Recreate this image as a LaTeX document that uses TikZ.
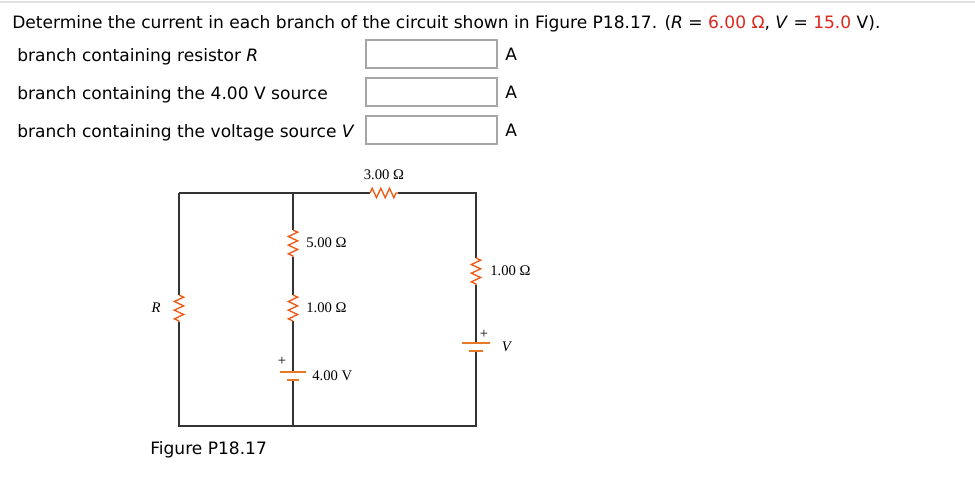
\documentclass[tikz,border=0pt]{standalone}
\usepackage{fontspec}
\setmainfont{DejaVu Sans}
\newfontfamily\serifc{Liberation Serif}
\usetikzlibrary{decorations.pathmorphing,calc}
\definecolor{val}{RGB}{220,40,30}
\definecolor{zz}{RGB}{240,90,20}
\definecolor{bat}{RGB}{230,120,40}
\begin{document}
\begin{tikzpicture}[x=0.75pt,y=-0.75pt,
  txt/.style={font=\fontsize{12.8}{15}\selectfont,anchor=base west,inner sep=0},
  box/.style={draw=black!35,line width=0.8pt},
  wire/.style={draw=black!80,line width=1pt},
  res/.style={draw=zz,line width=1pt,decorate,decoration={zigzag,segment length=6.5pt,amplitude=3.5pt}},
  lab/.style={font=\serifc\fontsize{11}{12}\selectfont,inner sep=0},
  plate/.style={draw=bat,line width=1.2pt}]
\useasboundingbox (0,0) rectangle (975,482);
\fill[white] (0,0) rectangle (975,482);
\draw[black!12,line width=1pt] (0,2) -- (975,2);
\node[txt] (q) at (12,28) {Determine the current in each branch of the circuit shown in Figure P18.17. (\textit{R} = \textcolor{val}{6.00 Ω}, \textit{V} = \textcolor{val}{15.0} V).};
\node[txt] (r1) at (17,61) {branch containing resistor \textit{R}};
\node[txt] (r2) at (17,99) {branch containing the 4.00 V source};
\node[txt] (r3) at (17,137) {branch containing the voltage source \textit{V}};
\foreach \y/\n in {40/b1,78/b2,116/b3}{
  \draw[box] (366,\y) rectangle (497,\y+28);
  \node[txt] (a\n) at (505,\y+20) {A};
}
% circuit nodes
\coordinate (TL) at (179,193); \coordinate (TM) at (293,193); \coordinate (TR) at (476,193);
\coordinate (BL) at (179,426); \coordinate (BM) at (293,426); \coordinate (BR) at (476,426);
\coordinate (t1) at (370,193); \coordinate (t2) at (398,193);
\coordinate (l1) at (179,295); \coordinate (l2) at (179,322);
\coordinate (m1) at (293,230); \coordinate (m2) at (293,257);
\coordinate (m3) at (293,295); \coordinate (m4) at (293,321);
\coordinate (mb1) at (293,372); \coordinate (mb2) at (293,380);
\coordinate (r1a) at (476,258); \coordinate (r1b) at (476,285);
\coordinate (rb1) at (476,343); \coordinate (rb2) at (476,351);
\draw[wire] (TL) -- (t1) (t2) -- (TR) -- (r1a) (r1b) -- (rb1) (rb2) -- (BR) -- (BL) -- (l2) (l1) -- (TL)
  (TM) -- (m1) (m2) -- (m3) (m4) -- (mb1) (mb2) -- (BM);
\draw[res] (t1) -- (t2);
\draw[res] (l1) -- (l2);
\draw[res] (m1) -- (m2);
\draw[res] (m3) -- (m4);
\draw[res] (r1a) -- (r1b);
\draw[plate] ($(mb1)+(-13,0)$) -- ($(mb1)+(13,0)$);
\draw[plate,line width=2pt] ($(mb2)+(-6,0)$) -- ($(mb2)+(6,0)$);
\draw[plate] ($(rb1)+(-14,0)$) -- ($(rb1)+(14,0)$);
\draw[plate,line width=2pt] ($(rb2)+(-7,0)$) -- ($(rb2)+(7,0)$);
\node[lab] (L3) at (384,175) {3.00 Ω};
\node[lab,anchor=west] (L5) at (306,243) {5.00 Ω};
\node[lab,anchor=west] (L1m) at (306,308) {1.00 Ω};
\node[lab,anchor=west] (L4) at (312,376) {4.00 V};
\node[lab,anchor=west] (L1r) at (490,271) {1.00 Ω};
\node[lab] (LR) at (156,308) {\textit{R}};
\node[lab] (LV) at (507,347) {\textit{V}};
\node[lab] (p1) at (282,361) {+};
\node[lab] (p2) at (484,334) {+};
\node[txt] (fig) at (150,454) {Figure P18.17};
\end{tikzpicture}
\end{document}
